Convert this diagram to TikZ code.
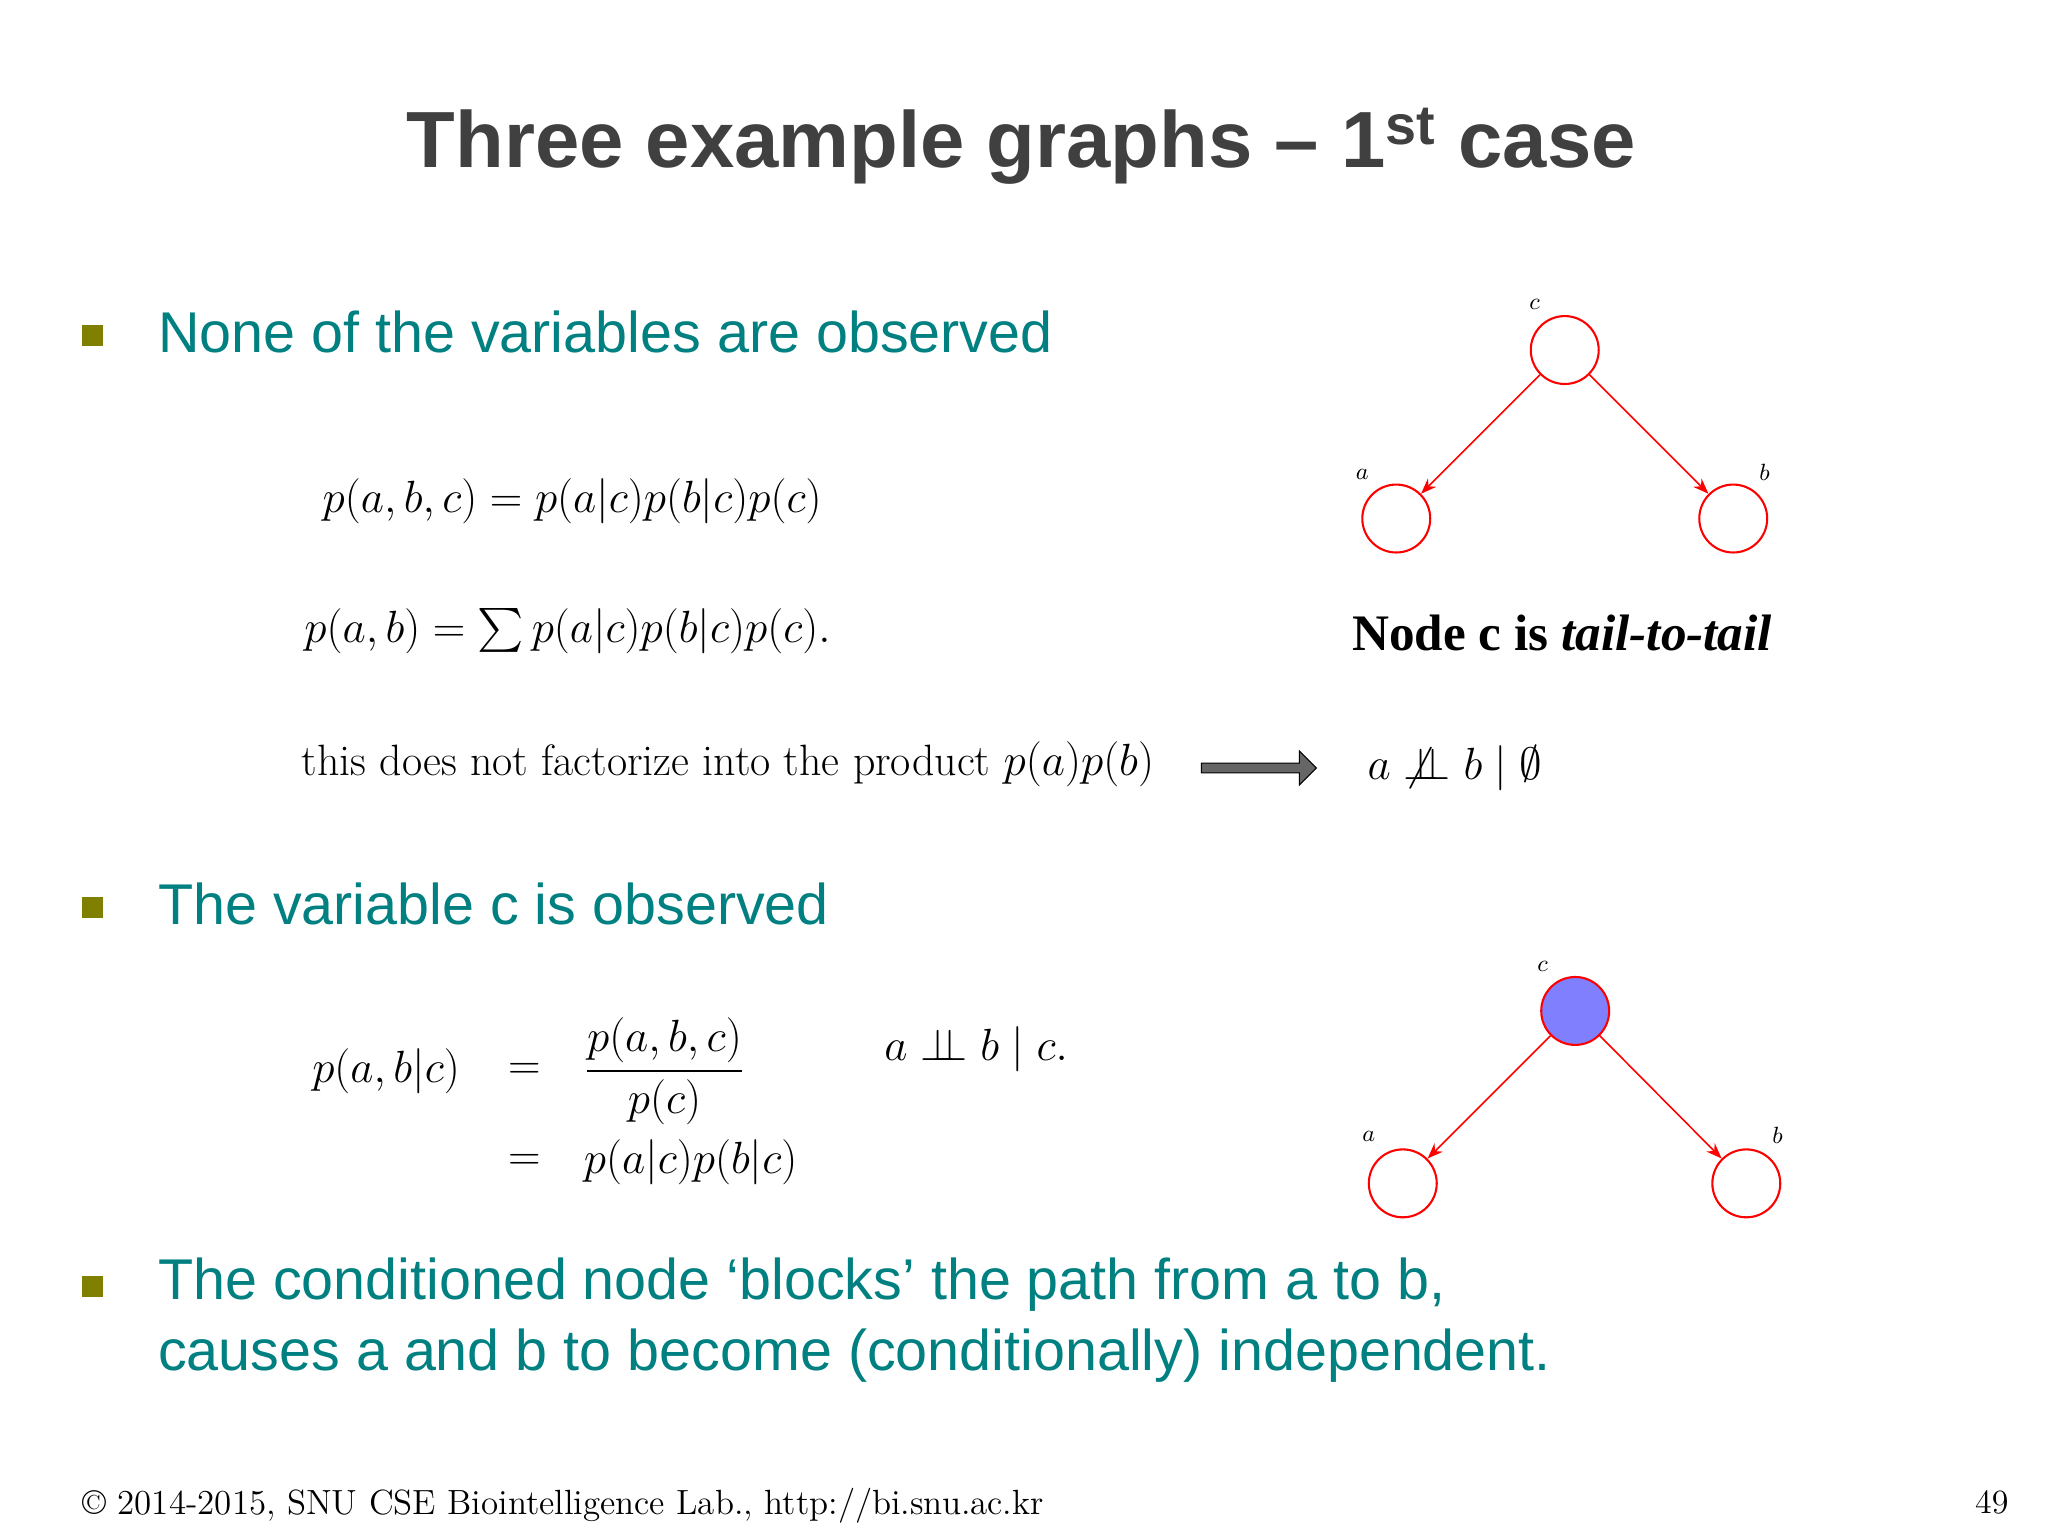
\documentclass[tikz,border=0pt]{standalone}
\usepackage{amsmath,amssymb}
\usepackage{fontspec}
\newfontfamily\arialf{Liberation Sans}
\newfontfamily\timesf{Liberation Serif}
\usetikzlibrary{arrows.meta,shapes.arrows}
\definecolor{teal1}{RGB}{0,128,128}
\definecolor{olive1}{RGB}{128,128,0}
\definecolor{title1}{RGB}{64,64,64}
\definecolor{obs}{RGB}{128,128,255}
\newcommand{\indep}{\mathrel{\perp\!\!\!\perp}}
\newcommand{\nindep}{\mathrel{\not\perp\!\!\!\perp}}
\begin{document}
\begin{tikzpicture}[x=0.5pt,y=-0.5pt,
  bul/.style={fill=olive1,minimum size=8pt,inner sep=0pt},
  btxt/.style={anchor=west,text=teal1,font=\arialf\fontsize{22}{27}\selectfont,align=left},
  vnode/.style={draw=red,thick,circle,minimum size=26pt,inner sep=0pt},
  lab/.style={font=\fontsize{9}{10}\selectfont},
  edge/.style={draw=red,semithick,-{Stealth[length=6pt]}},
  eq/.style={anchor=west,font=\fontsize{16.8}{20}\selectfont}]
\useasboundingbox (0,0) rectangle (1568,1176);
\node[font=\arialf\bfseries\fontsize{30.5}{36}\selectfont,text=title1] (title) at (782,112) {Three example graphs \textendash{} 1\textsuperscript{st} case};
\node[bul] (b1) at (71,257) {};
\node[btxt] (t1) at (114,254) {None of the variables are observed};
\node[bul] (b2) at (71,695) {};
\node[btxt] (t2) at (114,692) {The variable c is observed};
\node[bul] (b3) at (71,985) {};
\node[btxt,anchor=north west] (t3) at (114,956) {The conditioned node ‘blocks’ the path from a to b,\\causes a and b to become (conditionally) independent.};
% graph 1
\node[vnode] (c1) at (1198,268) {};
\node[vnode] (a1) at (1069,397) {};
\node[vnode] (bb1) at (1327,397) {};
\draw[edge] (c1) -- (a1);
\draw[edge] (c1) -- (bb1);
\node[lab] (lc1) at (1175,233) {$c$};
\node[lab] (la1) at (1043,363) {$a$};
\node[lab] (lb1) at (1351,362) {$b$};
\node[font=\timesf\bfseries\fontsize{19.6}{23}\selectfont] (tt) at (1196,485) {Node c is \textit{tail-to-tail}};
% graph 2
\node[vnode,fill=obs] (c2) at (1206,774) {};
\node[vnode] (a2) at (1074,906) {};
\node[vnode] (bb2) at (1337,906) {};
\draw[edge] (c2) -- (a2);
\draw[edge] (c2) -- (bb2);
\node[lab] (lc2) at (1181,740) {$c$};
\node[lab] (la2) at (1048,870) {$a$};
\node[lab] (lb2) at (1361,869) {$b$};
% equations
\node[eq] (e1) at (240,384) {$p(a,b,c)=p(a|c)p(b|c)p(c)$};
\node[eq] (e2) at (226,483) {$p(a,b)=\sum p(a|c)p(b|c)p(c).$};
\node[eq] (e3) at (224,585) {this does not factorize into the product $p(a)p(b)$};
\node[single arrow,draw=black,fill=gray!80!black,minimum height=44pt,minimum width=13pt,single arrow head extend=3pt,inner sep=1pt] (arr) at (962,588) {};
\node[eq] (e4) at (1040,588) {$a\nindep b\mid\emptyset$};
\node[eq] (e5) at (232,820) {$p(a,b|c)$};
\node[eq] (e6) at (382,820) {$=$};
\node[eq] (e7) at (440,820) {$\dfrac{p(a,b,c)}{p(c)}$};
\node[eq] (e8) at (670,803) {$a\indep b\mid c.$};
\node[eq] (e9) at (382,890) {$=$};
\node[eq] (e10) at (440,890) {$p(a|c)p(b|c)$};
% footer
\node[anchor=west,font=\fontsize{13.4}{16}\selectfont] (f1) at (56,1153) {\textcopyright{} 2014-2015, SNU CSE Biointelligence Lab., http://bi.snu.ac.kr};
\node[font=\fontsize{13}{15}\selectfont] (f2) at (1525,1150) {49};
\end{tikzpicture}
\end{document}
